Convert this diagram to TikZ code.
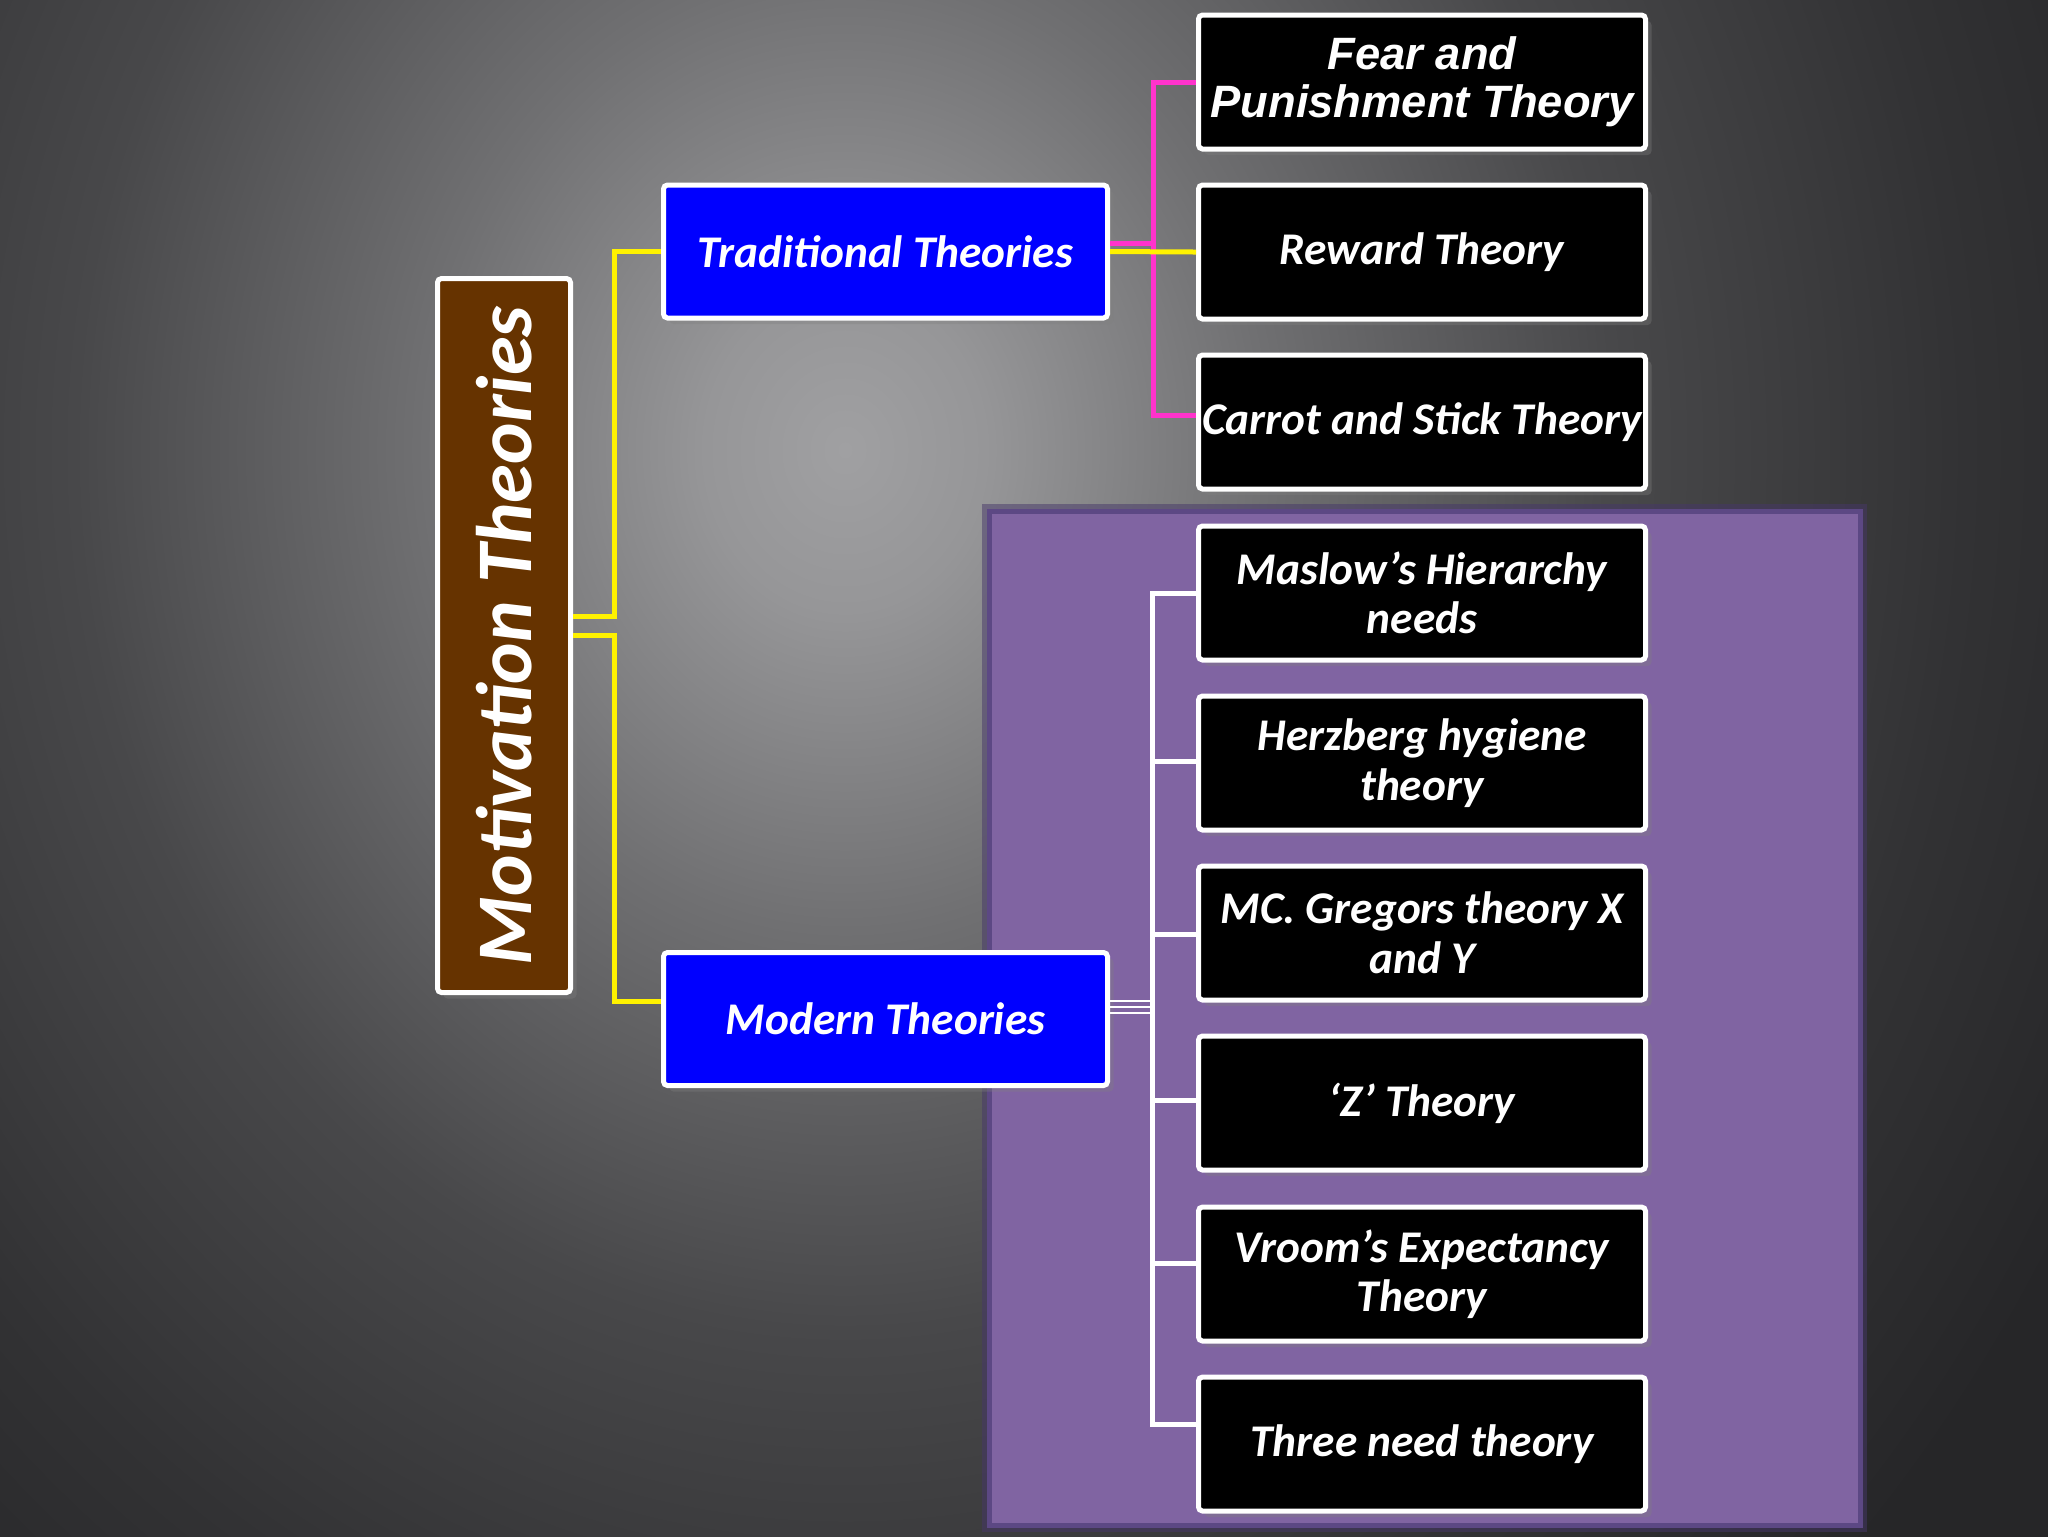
\documentclass[tikz,border=0pt]{standalone}
\usepackage{fontspec}
\setmainfont{Carlito}
\newfontfamily\arialf{Liberation Sans}
\usetikzlibrary{shadows}
\definecolor{bg0}{RGB}{160,160,162}
\definecolor{bg1}{RGB}{150,150,152}
\definecolor{bg2}{RGB}{112,112,114}
\definecolor{bg3}{RGB}{72,72,74}
\definecolor{bg4}{RGB}{50,50,52}
\definecolor{bgout}{RGB}{38,38,40}
\definecolor{mybrown}{RGB}{102,51,0}
\definecolor{mypink}{RGB}{255,51,204}
\definecolor{mypurple}{RGB}{128,100,162}
\definecolor{mypurpleb}{RGB}{92,72,132}
\definecolor{mypurpleg}{RGB}{70,55,105}
\pgfdeclareradialshading{bgshade}{\pgfpoint{0bp}{0bp}}{color(0bp)=(bg0); color(2.5bp)=(bg1); color(7.5bp)=(bg2); color(13.75bp)=(bg3); color(20bp)=(bg4); color(25bp)=(bgout); color(50bp)=(bgout)}
\begin{document}
\begin{tikzpicture}[x=0.1mm,y=-0.1mm,
  bx/.style={draw=white, line width=0.5mm, rounded corners=0.4mm, inner sep=0pt, align=center, text=white,
    font=\fontsize{12.9}{14.1}\selectfont\bfseries\itshape,
    drop shadow={shadow xshift=0.6mm, shadow yshift=-0.6mm, opacity=0.35}},
  rbox/.style={bx, fill=black, minimum width=44.7mm, minimum height=13.4mm},
  tbox/.style={bx, fill=blue, minimum width=44.4mm, minimum height=13.3mm},
  brownbox/.style={bx, fill=mybrown, minimum width=13.3mm, minimum height=71.4mm,
    font=\fontsize{22.4}{24}\selectfont\bfseries\itshape},
  yel/.style={draw=yellow, line width=0.5mm},
  pk/.style={draw=mypink, line width=0.5mm},
  wl/.style={draw=white, line width=0.5mm},
  wthin/.style={draw=white, line width=0.2mm}]
\useasboundingbox (0,0) rectangle (2048,1536);
% background
\fill[bgout] (-20,-20) rectangle (2068,1556);
\begin{scope}
  \clip (-20,-20) rectangle (2068,1556);
  \shade[shading=bgshade] (845,450) ellipse [x radius=140mm, y radius=160mm];
\end{scope}
% purple panel
\draw[draw=mypurpleg, draw opacity=0.5, line width=1.4mm] (989,511) rectangle (1860,1525);
\draw[fill=mypurple, draw=mypurpleb, line width=0.5mm] (989,511) rectangle (1860,1525);

% nodes
\node[brownbox] (brown) at (504,635.5) {\rotatebox{90}{Motivation Theories}};
\node[tbox] (trad) at (885.5,251.5) {Traditional Theories};
\node[tbox] (modern) at (885.5,1019) {Modern Theories};

\node[rbox, font=\fontsize{12.9}{13.7}\selectfont\arialf\bfseries\itshape] (fear) at (1422,82) {Fear and\\Punishment Theory};
\node[rbox] (reward) at (1422,252) {Reward Theory};
\node[rbox] (carrot) at (1422,422) {Carrot and Stick Theory};
\node[rbox] (maslow) at (1422,593) {Maslow’s Hierarchy\\needs};
\node[rbox] (herz) at (1422,763) {Herzberg hygiene\\theory};
\node[rbox] (mc) at (1422,933) {MC. Gregors theory X\\and Y};
\node[rbox] (z) at (1422,1103) {‘Z’ Theory};
\node[rbox] (vroom) at (1422,1274) {Vroom’s Expectancy\\Theory};
\node[rbox] (three) at (1422,1444) {Three need theory};

% helper coordinates
\coordinate (ya) at (0,616);
\coordinate (yb) at (0,635);
\coordinate (yc) at (0,1001);
\coordinate (p0) at (0,243);
\coordinate (p1) at (0,415);
\coordinate (jp) at (1153,243);
\coordinate (jw) at (1152,593);
\coordinate (w1) at (0,1001);
\coordinate (w2) at (0,1007);
\coordinate (w3) at (0,1013);
\coordinate (c1) at (0,593);
\coordinate (c2) at (0,761);
\coordinate (c3) at (0,934);
\coordinate (c4) at (0,1100);
\coordinate (c5) at (0,1263);
\coordinate (c6) at (0,1424);

% yellow and pink connectors
\draw[yel] (brown.east |- ya) -- (614,616) |- (trad.west);
\draw[yel] (brown.east |- yb) -- (614,635) |- (modern.west |- yc);
\draw[pk] (trad.east |- p0) -- (jp) |- (fear.west);
\draw[pk] (jp) |- (carrot.west |- p1);
\draw[yel] (trad.east) -- (reward.west);

% white connectors
\draw[wthin] (modern.east |- w1) -- (jw |- w1);
\draw[wthin] (modern.east |- w2) -- (jw |- w2);
\draw[wthin] (modern.east |- w3) -- (jw |- w3);
\draw[wl] (maslow.west |- c1) -| (jw |- c6) -- (three.west |- c6);
\draw[wl] (jw |- c2) -- (herz.west |- c2);
\draw[wl] (jw |- c3) -- (mc.west |- c3);
\draw[wl] (jw |- c4) -- (z.west |- c4);
\draw[wl] (jw |- c5) -- (vroom.west |- c5);
\end{tikzpicture}
\end{document}
